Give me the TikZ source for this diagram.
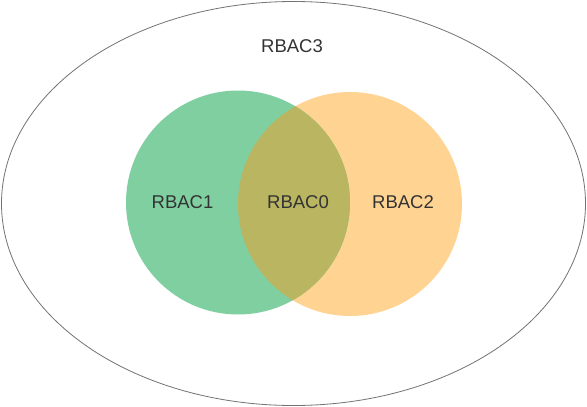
\documentclass[tikz,border=0pt]{standalone}
\usepackage{fontspec}
\setmainfont{Liberation Sans}
\begin{document}
\begin{tikzpicture}[x=1pt,y=-1pt,
  lbl/.style={font=\fontsize{18.5}{20}\selectfont, text=black!80},
  greenset/.style={fill={rgb,255:red,127;green,207;blue,161}, draw=none},
  orangeset/.style={fill={rgb,255:red,255;green,211;blue,146}, draw=none},
  bothset/.style={fill={rgb,255:red,185;green,181;blue,96}, draw=none}]
\useasboundingbox (0,0) rectangle (587,407);
\fill[white] (0,0) rectangle (587,407);
\draw[draw=black!55, line width=0.8pt] (293.5,203.5) ellipse [x radius=292, y radius=202];
\path[orangeset] (350,204) circle [radius=112];
\path[greenset] (238,202.5) circle [radius=112];
\begin{scope}
  \clip (350,204) circle [radius=112];
  \path[bothset] (238,202.5) circle [radius=112];
\end{scope}
\node[lbl] (r3) at (292,46) {RBAC3};
\node[lbl] (r1) at (182.5,202) {RBAC1};
\node[lbl] (r0) at (298,202) {RBAC0};
\node[lbl] (r2) at (403,202) {RBAC2};
\end{tikzpicture}
\end{document}
